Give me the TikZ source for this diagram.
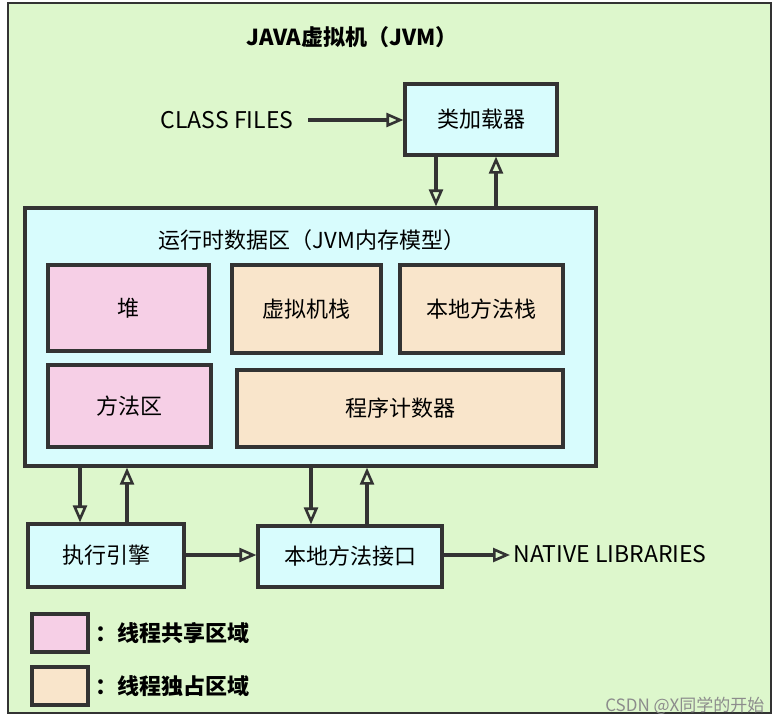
\documentclass[tikz,border=0pt]{standalone}
\usepackage{fontspec}
\setmainfont{Noto Sans CJK SC}
\usetikzlibrary{arrows.meta}
\definecolor{bg}{HTML}{DDF7CC}
\definecolor{cy}{HTML}{D8FCFD}
\definecolor{pk}{HTML}{F6CFE6}
\definecolor{pc}{HTML}{F9E5CB}
\definecolor{ln}{HTML}{333333}
\begin{document}
\begin{tikzpicture}[x=1pt,y=-1pt,
 box/.style={draw=ln,line width=3.2pt,font=\fontsize{22}{25}\selectfont},
 arr/.style={draw=ln,line width=3.2pt,-{Triangle[open,length=17pt,width=14pt,line width=2.6pt]}},
 lbl/.style={font=\fontsize{22}{25}\selectfont}]
\useasboundingbox (0,0) rectangle (782,726);
\fill[white] (0,0) rectangle (782,726);
\draw[draw=ln,line width=2.4pt,fill=bg] (8,3) rectangle (771,713);
\node[lbl,font=\bfseries\fontsize{22}{25}\selectfont] (title) at (352,37) {JAVA虚拟机（JVM）};
\node[lbl,font=\fontsize{23}{26}\selectfont] (cf) at (227,120) {CLASS FILES};
\node[box,fill=cy,minimum width=152pt,minimum height=71pt] (cl) at (481,119.5) {类加载器};
\node[box,fill=cy,minimum width=571pt,minimum height=258pt] (rt) at (310.5,337) {};
\node[lbl] (rtl) at (312,240) {运行时数据区（JVM内存模型）};
\node[box,fill=pk,minimum width=161pt,minimum height=86pt] (heap) at (128.5,308) {堆};
\node[box,fill=pc,minimum width=149pt,minimum height=88pt] (vms) at (306.5,309) {虚拟机栈};
\node[box,fill=pc,minimum width=163pt,minimum height=88pt] (nms) at (481.5,309) {本地方法栈};
\node[box,fill=pk,minimum width=163pt,minimum height=82pt] (ma) at (129.5,406) {方法区};
\node[box,fill=pc,minimum width=326pt,minimum height=77pt] (pc) at (400,408.5) {程序计数器};
\node[box,fill=cy,minimum width=156pt,minimum height=63pt] (ee) at (106,555.5) {执行引擎};
\node[box,fill=cy,minimum width=184pt,minimum height=61pt] (ni) at (350,556.5) {本地方法接口};
\node[lbl,anchor=west,font=\fontsize{23}{26}\selectfont] (nl) at (510,554) {NATIVE LIBRARIES};
\draw[arr] (308,120) coordinate (cfe) -- (cl.west |- cfe);
\draw[arr] (cl.south -| 436,0) -- (rt.north -| 436,0);
\draw[arr] (rt.north -| 496,0) -- (cl.south -| 496,0);
\draw[arr] (rt.south -| 80,0) -- (ee.north -| 80,0);
\draw[arr] (ee.north -| 127,0) -- (rt.south -| 127,0);
\draw[arr] (rt.south -| 311,0) -- (ni.north -| 311,0);
\draw[arr] (ni.north -| 367,0) -- (rt.south -| 367,0);
\draw[arr] (ee.east |- 0,555) -- (ni.west |- 0,555);
\draw[arr] (ni.east |- 0,555) -- (nl.west |- 0,555);
\node[box,fill=pk,minimum width=56pt,minimum height=38pt] (lg1) at (60,633) {};
\node[lbl,anchor=west,font=\bfseries\fontsize{22}{25}\selectfont] (lt1) at (92,633) {：线程共享区域};
\node[box,fill=pc,minimum width=56pt,minimum height=38pt] (lg2) at (60,686) {};
\node[lbl,anchor=west,font=\bfseries\fontsize{22}{25}\selectfont] (lt2) at (92,686) {：线程独占区域};
\node[anchor=east,text=gray!90,font=\fontsize{17}{19}\selectfont] (wm) at (768,706) {CSDN @X同学的开始};
\end{tikzpicture}
\end{document}
